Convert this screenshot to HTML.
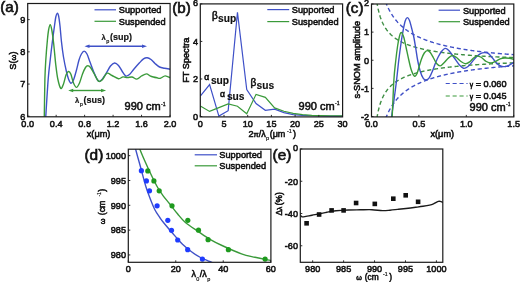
<!DOCTYPE html>
<html><head><meta charset="utf-8"><title>Figure</title>
<style>html,body{margin:0;padding:0;background:#fff;width:520px;height:282px;overflow:hidden}svg{display:block}text{stroke:#111;stroke-width:0.55px}</style>
</head><body>
<svg width="520" height="282" viewBox="0 0 520 282" font-family="'Liberation Sans', Arial, sans-serif" fill="#111"><defs><clipPath id="ca"><rect x="27.70" y="3.50" width="142.40" height="113.30"/></clipPath><clipPath id="cb"><rect x="200.30" y="3.90" width="142.30" height="113.00"/></clipPath><clipPath id="cc"><rect x="371.50" y="4.00" width="142.30" height="112.90"/></clipPath><clipPath id="cd"><rect x="128.30" y="149.20" width="142.60" height="113.10"/></clipPath><clipPath id="ce"><rect x="300.30" y="149.00" width="142.50" height="113.30"/></clipPath></defs><rect width="520" height="282" fill="#fff"/><g clip-path="url(#ca)" fill="none" stroke-width="1.4">
<path d="M45.00,130.00 C45.13,127.67 45.27,124.50 45.80,116.00 C46.33,107.50 47.47,88.33 48.20,79.00 C48.93,69.67 49.53,66.00 50.20,60.00 C50.87,54.00 51.47,48.83 52.20,43.00 C52.93,37.17 54.00,29.33 54.60,25.00 C55.20,20.67 55.37,18.95 55.80,17.00 C56.23,15.05 56.73,13.47 57.20,13.30 C57.67,13.13 58.13,13.88 58.60,16.00 C59.07,18.12 59.52,21.67 60.00,26.00 C60.48,30.33 60.92,36.83 61.50,42.00 C62.08,47.17 62.70,52.17 63.50,57.00 C64.30,61.83 65.47,67.33 66.30,71.00 C67.13,74.67 67.73,76.97 68.50,79.00 C69.27,81.03 70.07,83.03 70.90,83.20 C71.73,83.37 72.57,82.20 73.50,80.00 C74.43,77.80 75.58,73.33 76.50,70.00 C77.42,66.67 78.18,62.67 79.00,60.00 C79.82,57.33 80.55,55.48 81.40,54.00 C82.25,52.52 83.17,51.10 84.10,51.10 C85.03,51.10 86.02,52.18 87.00,54.00 C87.98,55.82 88.83,58.92 90.00,62.00 C91.17,65.08 92.83,69.67 94.00,72.50 C95.17,75.33 96.15,77.52 97.00,79.00 C97.85,80.48 98.27,81.32 99.10,81.40 C99.93,81.48 100.80,80.87 102.00,79.50 C103.20,78.13 104.88,75.45 106.30,73.20 C107.72,70.95 109.12,67.70 110.50,66.00 C111.88,64.30 113.27,63.08 114.60,63.00 C115.93,62.92 117.27,64.17 118.50,65.50 C119.73,66.83 120.80,69.25 122.00,71.00 C123.20,72.75 124.45,75.42 125.70,76.00 C126.95,76.58 128.12,75.67 129.50,74.50 C130.88,73.33 132.33,70.95 134.00,69.00 C135.67,67.05 137.92,64.50 139.50,62.80 C141.08,61.10 142.22,59.65 143.50,58.80 C144.78,57.95 145.95,57.58 147.20,57.70 C148.45,57.82 149.70,58.53 151.00,59.50 C152.30,60.47 153.57,62.25 155.00,63.50 C156.43,64.75 158.02,66.22 159.60,67.00 C161.18,67.78 162.68,67.83 164.50,68.20 C166.32,68.57 169.50,69.03 170.50,69.20" stroke="#3f51c8"/>
<path d="M43.90,130.00 C43.97,127.67 44.13,124.50 44.30,116.00 C44.47,107.50 44.65,88.33 44.90,79.00 C45.15,69.67 45.38,66.50 45.80,60.00 C46.22,53.50 46.93,45.00 47.40,40.00 C47.87,35.00 48.13,32.53 48.60,30.00 C49.07,27.47 49.67,24.80 50.20,24.80 C50.73,24.80 51.23,26.97 51.80,30.00 C52.37,33.03 52.93,37.17 53.60,43.00 C54.27,48.83 55.10,59.00 55.80,65.00 C56.50,71.00 56.97,75.10 57.80,79.00 C58.63,82.90 59.85,87.57 60.80,88.40 C61.75,89.23 62.63,86.23 63.50,84.00 C64.37,81.77 65.18,77.08 66.00,75.00 C66.82,72.92 67.60,71.67 68.40,71.50 C69.20,71.33 69.95,72.08 70.80,74.00 C71.65,75.92 72.55,80.77 73.50,83.00 C74.45,85.23 75.50,87.40 76.50,87.40 C77.50,87.40 78.50,85.23 79.50,83.00 C80.50,80.77 81.50,76.58 82.50,74.00 C83.50,71.42 84.62,68.87 85.50,67.50 C86.38,66.13 86.97,65.80 87.80,65.80 C88.63,65.80 89.47,66.22 90.50,67.50 C91.53,68.78 92.65,71.20 94.00,73.50 C95.35,75.80 97.18,80.30 98.60,81.30 C100.02,82.30 101.10,80.85 102.50,79.50 C103.90,78.15 105.42,73.87 107.00,73.20 C108.58,72.53 110.08,74.58 112.00,75.50 C113.92,76.42 116.67,78.47 118.50,78.70 C120.33,78.93 121.50,77.08 123.00,76.90 C124.50,76.72 126.00,77.58 127.50,77.60 C129.00,77.62 130.45,76.75 132.00,77.00 C133.55,77.25 135.22,79.27 136.80,79.10 C138.38,78.93 139.88,76.87 141.50,76.00 C143.12,75.13 145.08,73.93 146.50,73.90 C147.92,73.87 148.85,75.28 150.00,75.80 C151.15,76.32 152.23,76.67 153.40,77.00 C154.57,77.33 155.85,77.58 157.00,77.80 C158.15,78.02 158.93,78.62 160.30,78.30 C161.67,77.98 163.50,75.95 165.20,75.90 C166.90,75.85 169.62,77.65 170.50,78.00" stroke="#3a9a3a"/>
</g>
<text transform="translate(27.70,126.60) scale(0.950,1)" font-size="9.60" text-anchor="middle">0.0</text>
<text transform="translate(56.16,126.60) scale(0.950,1)" font-size="9.60" text-anchor="middle">0.4</text>
<text transform="translate(84.62,126.60) scale(0.950,1)" font-size="9.60" text-anchor="middle">0.8</text>
<text transform="translate(113.08,126.60) scale(0.950,1)" font-size="9.60" text-anchor="middle">1.2</text>
<text transform="translate(141.54,126.60) scale(0.950,1)" font-size="9.60" text-anchor="middle">1.6</text>
<text transform="translate(170.00,126.60) scale(0.950,1)" font-size="9.60" text-anchor="middle">2.0</text>
<text transform="translate(25.40,119.60) scale(0.950,1)" font-size="9.60" text-anchor="end">6</text>
<text transform="translate(25.40,87.37) scale(0.950,1)" font-size="9.60" text-anchor="end">7</text>
<text transform="translate(25.40,55.14) scale(0.950,1)" font-size="9.60" text-anchor="end">8</text>
<text transform="translate(25.40,22.91) scale(0.950,1)" font-size="9.60" text-anchor="end">9</text>
<path d="M27.70,116.80 v-2.0 M56.16,116.80 v-2.0 M84.62,116.80 v-2.0 M113.08,116.80 v-2.0 M141.54,116.80 v-2.0 M170.00,116.80 v-2.0 M27.70,116.30 h2.0 M27.70,84.07 h2.0 M27.70,51.84 h2.0 M27.70,19.61 h2.0" stroke="#1a1a1a" stroke-width="0.9" fill="none"/>
<rect x="27.70" y="3.50" width="142.40" height="113.30" fill="none" stroke="#1a1a1a" stroke-width="1.2"/>
<path d="M94.50,9.80 H116.00" stroke="#3f51c8" stroke-width="1.20"/>
<path d="M94.50,21.30 H116.00" stroke="#3a9a3a" stroke-width="1.20"/>
<text transform="translate(118.80,13.10) scale(0.940,1)" font-size="9.86" text-anchor="start">Supported</text>
<text transform="translate(118.80,24.60) scale(0.940,1)" font-size="9.86" text-anchor="start">Suspended</text>
<path d="M88.50,46.30 H143.00" stroke="#3f51c8" stroke-width="1.40"/>
<path d="M84.50,46.30 l5.00,-1.80 v3.60 z M147.00,46.30 l-5.00,-1.80 v3.60 z" fill="#3f51c8"/>
<path d="M72.20,90.50 H102.10" stroke="#3a9a3a" stroke-width="1.40"/>
<path d="M68.20,90.50 l5.00,-1.80 v3.60 z M106.10,90.50 l-5.00,-1.80 v3.60 z" fill="#3a9a3a"/>
<text x="101.40" y="40.40" font-size="9.00" text-anchor="start"><tspan font-size="7.60" font-weight="bold" stroke-width="0.15">λ</tspan><tspan dx="0.60" dy="2.80" font-size="5.50" style="stroke-width:0.2px">p</tspan><tspan dx="0.60" dy="-2.80" font-weight="bold" stroke-width="0.15">(sup)</tspan></text>
<text x="74.90" y="102.80" font-size="9.00" text-anchor="start"><tspan font-size="7.60" font-weight="bold" stroke-width="0.15">λ</tspan><tspan dx="0.60" dy="2.80" font-size="5.50" style="stroke-width:0.2px">p</tspan><tspan dx="0.60" dy="-2.80" font-weight="bold" stroke-width="0.15">(sus)</tspan></text>
<text x="124.60" y="110.20" font-size="11.00" text-anchor="start">990 cm<tspan font-size="5.2" dy="-4.5" dx="0.4" style="stroke-width:0.3px">-1</tspan></text>
<text transform="translate(15.70,60.60) rotate(-90)" font-size="9.20" text-anchor="middle">S(<tspan font-size="7.50">ω</tspan>)</text>
<text x="98.60" y="136.50" font-size="9.20" text-anchor="middle">x(μm)</text>
<text transform="translate(0.20,12.40) scale(1.100,1)" font-size="13.80" text-anchor="start" style="stroke-width:0.6px">(a)</text>
<g clip-path="url(#cb)" fill="none" stroke-width="1.2" stroke-linejoin="miter">
<path d="M200.30,96.04 L209.59,84.60 L218.88,116.12 L228.17,110.68 L237.46,12.35 L246.75,89.48 L256.04,103.55 L265.33,110.31 L274.62,109.18 L283.91,112.56 L293.20,114.62 L302.49,115.37 L311.78,115.75 L321.08,115.94 L330.37,116.12 L339.66,116.12 L348.95,116.12" stroke="#3f51c8"/>
<path d="M200.30,105.99 L209.59,111.43 L218.88,107.68 L228.17,103.93 L237.46,106.18 L246.75,113.69 L256.04,94.36 L265.33,97.36 L274.62,107.87 L283.91,111.25 L293.20,113.31 L302.49,114.62 L311.78,115.37 L321.08,115.56 L330.37,115.75 L339.66,115.94 L348.95,115.94" stroke="#3a9a3a"/>
</g>
<text transform="translate(200.30,126.80) scale(0.950,1)" font-size="9.60" text-anchor="middle">0</text>
<text transform="translate(224.00,126.80) scale(0.950,1)" font-size="9.60" text-anchor="middle">5</text>
<text transform="translate(247.70,126.80) scale(0.950,1)" font-size="9.60" text-anchor="middle">10</text>
<text transform="translate(271.40,126.80) scale(0.950,1)" font-size="9.60" text-anchor="middle">15</text>
<text transform="translate(295.10,126.80) scale(0.950,1)" font-size="9.60" text-anchor="middle">20</text>
<text transform="translate(318.80,126.80) scale(0.950,1)" font-size="9.60" text-anchor="middle">25</text>
<text transform="translate(342.50,126.80) scale(0.950,1)" font-size="9.60" text-anchor="middle">30</text>
<text transform="translate(198.00,119.80) scale(0.950,1)" font-size="9.60" text-anchor="end">0</text>
<text transform="translate(198.00,82.27) scale(0.950,1)" font-size="9.60" text-anchor="end">2</text>
<text transform="translate(198.00,44.73) scale(0.950,1)" font-size="9.60" text-anchor="end">4</text>
<text transform="translate(198.00,6.30) scale(0.950,1)" font-size="9.60" text-anchor="end">6</text>
<path d="M200.30,116.90 v-2.0 M224.00,116.90 v-2.0 M247.70,116.90 v-2.0 M271.40,116.90 v-2.0 M295.10,116.90 v-2.0 M318.80,116.90 v-2.0 M342.50,116.90 v-2.0 M200.30,116.50 h2.0 M200.30,78.97 h2.0 M200.30,41.43 h2.0 M200.30,3.90 h2.0" stroke="#1a1a1a" stroke-width="0.9" fill="none"/>
<rect x="200.30" y="3.90" width="142.30" height="113.00" fill="none" stroke="#1a1a1a" stroke-width="1.2"/>
<path d="M267.30,9.60 H289.20" stroke="#3f51c8" stroke-width="1.20"/>
<path d="M267.30,21.60 H289.20" stroke="#3a9a3a" stroke-width="1.20"/>
<text transform="translate(291.80,12.90) scale(0.940,1)" font-size="9.86" text-anchor="start">Supported</text>
<text transform="translate(291.80,24.90) scale(0.940,1)" font-size="9.86" text-anchor="start">Suspended</text>
<text x="298.60" y="109.90" font-size="11.00" text-anchor="start">990 cm<tspan font-size="5.2" dy="-4.5" dx="0.4" style="stroke-width:0.3px">-1</tspan></text>
<text transform="translate(188.5,60.2) rotate(-90)" font-size="9.2" text-anchor="middle">FT Spectra</text>
<text x="248.50" y="137.00" font-size="9.00" text-anchor="start">2<tspan font-size="7.50">π</tspan>/λ<tspan dx="0.30" dy="3.00" font-size="5.50" style="stroke-width:0.2px">p</tspan><tspan dx="0.60" dy="-3.00">(μm</tspan><tspan dx="1.60" dy="-3.60" font-size="5.50" style="stroke-width:0.2px">-1</tspan><tspan dx="1.20" dy="3.60">)</tspan></text>
<text transform="translate(172.20,12.70) scale(1.100,1)" font-size="13.80" text-anchor="start" style="stroke-width:0.6px">(b)</text>
<text x="212.00" y="18.60" font-size="10.00" text-anchor="start"><tspan font-size="10.00">β</tspan><tspan x="218.00" dy="3.20" font-size="10.20" font-weight="bold" stroke-width="0.15">sup</tspan></text>
<text x="204.20" y="79.80" font-size="8.60" text-anchor="start"><tspan font-size="8.60">α</tspan><tspan x="210.90" dy="4.10" font-size="10.20" font-weight="bold" stroke-width="0.15">sup</tspan></text>
<text x="220.10" y="97.20" font-size="8.60" text-anchor="start"><tspan font-size="8.60">α</tspan><tspan x="226.90" dy="3.10" font-size="10.20" font-weight="bold" stroke-width="0.15">sus</tspan></text>
<text x="250.60" y="85.60" font-size="10.00" text-anchor="start"><tspan font-size="10.00">β</tspan><tspan x="256.60" dy="3.20" font-size="10.20" font-weight="bold" stroke-width="0.15">sus</tspan></text>
<g clip-path="url(#cc)" fill="none" stroke-width="1.4">
<path d="M373.40,-10.00 L373.87,-10.00 L374.35,-10.00 L374.82,-10.00 L375.30,-10.00 L375.77,-6.10 L376.25,-2.20 L376.73,1.16 L377.20,4.09 L377.68,6.68 L378.15,8.99 L378.63,11.06 L379.10,12.94 L379.58,14.66 L380.05,16.22 L380.53,17.67 L381.01,19.01 L381.48,20.25 L381.96,21.41 L382.43,22.49 L382.91,23.51 L383.38,24.46 L383.86,25.36 L384.33,26.22 L384.81,27.02 L385.29,27.79 L385.76,28.52 L386.24,29.21 L386.71,29.87 L387.19,30.50 L387.66,31.11 L388.14,31.69 L388.61,32.24 L389.09,32.78 L389.57,33.29 L390.04,33.78 L390.52,34.26 L390.99,34.72 L391.47,35.16 L391.94,35.59 L392.42,36.00 L392.89,36.40 L393.37,36.79 L393.85,37.16 L394.32,37.53 L394.80,37.88 L395.27,38.22 L395.75,38.55 L396.22,38.88 L396.70,39.19 L397.18,39.50 L397.65,39.80 L398.13,40.08 L398.60,40.37 L399.08,40.64 L399.55,40.91 L400.03,41.17 L400.50,41.43 L400.98,41.68 L401.46,41.92 L401.93,42.16 L402.41,42.39 L402.88,42.62 L403.36,42.84 L403.83,43.06 L404.31,43.27 L404.78,43.48 L405.26,43.68 L405.74,43.88 L406.21,44.08 L406.69,44.27 L407.16,44.46 L407.64,44.64 L408.11,44.82 L408.59,45.00 L409.06,45.17 L409.54,45.34 L410.02,45.51 L410.49,45.68 L410.97,45.84 L411.44,45.99 L411.92,46.15 L412.39,46.30 L412.87,46.45 L413.35,46.60 L413.82,46.75 L414.30,46.89 L414.77,47.03 L415.25,47.17 L415.72,47.30 L416.20,47.44 L416.67,47.57 L417.15,47.70 L417.63,47.83 L418.10,47.95 L418.58,48.08 L419.05,48.20 L419.53,48.32 L420.00,48.43 L420.48,48.55 L420.95,48.67 L421.43,48.78 L421.91,48.89 L422.38,49.00 L422.86,49.11 L423.33,49.21 L423.81,49.32 L424.28,49.42 L424.76,49.52 L425.23,49.62 L425.71,49.72 L426.19,49.82 L426.66,49.92 L427.14,50.01 L427.61,50.11 L428.09,50.20 L428.56,50.29 L429.04,50.38 L429.52,50.47 L429.99,50.56 L430.47,50.65 L430.94,50.73 L431.42,50.82 L431.89,50.90 L432.37,50.98 L432.84,51.06 L433.32,51.14 L433.80,51.22 L434.27,51.30 L434.75,51.38 L435.22,51.46 L435.70,51.53 L436.17,51.61 L436.65,51.68 L437.12,51.75 L437.60,51.83 L438.08,51.90 L438.55,51.97 L439.03,52.04 L439.50,52.11 L439.98,52.18 L440.45,52.24 L440.93,52.31 L441.40,52.37 L441.88,52.44 L442.36,52.50 L442.83,52.57 L443.31,52.63 L443.78,52.69 L444.26,52.75 L444.73,52.82 L445.21,52.88 L445.68,52.94 L446.16,52.99 L446.64,53.05 L447.11,53.11 L447.59,53.17 L448.06,53.22 L448.54,53.28 L449.01,53.34 L449.49,53.39 L449.97,53.44 L450.44,53.50 L450.92,53.55 L451.39,53.60 L451.87,53.66 L452.34,53.71 L452.82,53.76 L453.29,53.81 L453.77,53.86 L454.25,53.91 L454.72,53.96 L455.20,54.01 L455.67,54.05 L456.15,54.10 L456.62,54.15 L457.10,54.19 L457.57,54.24 L458.05,54.29 L458.53,54.33 L459.00,54.38 L459.48,54.42 L459.95,54.47 L460.43,54.51 L460.90,54.55 L461.38,54.59 L461.85,54.64 L462.33,54.68 L462.81,54.72 L463.28,54.76 L463.76,54.80 L464.23,54.84 L464.71,54.88 L465.18,54.92 L465.66,54.96 L466.14,55.00 L466.61,55.04 L467.09,55.08 L467.56,55.11 L468.04,55.15 L468.51,55.19 L468.99,55.23 L469.46,55.26 L469.94,55.30 L470.42,55.33 L470.89,55.37 L471.37,55.41 L471.84,55.44 L472.32,55.47 L472.79,55.51 L473.27,55.54 L473.74,55.58 L474.22,55.61 L474.70,55.64 L475.17,55.68 L475.65,55.71 L476.12,55.74 L476.60,55.77 L477.07,55.80 L477.55,55.84 L478.02,55.87 L478.50,55.90 L478.98,55.93 L479.45,55.96 L479.93,55.99 L480.40,56.02 L480.88,56.05 L481.35,56.08 L481.83,56.11 L482.31,56.14 L482.78,56.16 L483.26,56.19 L483.73,56.22 L484.21,56.25 L484.68,56.28 L485.16,56.30 L485.63,56.33 L486.11,56.36 L486.59,56.38 L487.06,56.41 L487.54,56.44 L488.01,56.46 L488.49,56.49 L488.96,56.52 L489.44,56.54 L489.91,56.57 L490.39,56.59 L490.87,56.62 L491.34,56.64 L491.82,56.67 L492.29,56.69 L492.77,56.71 L493.24,56.74 L493.72,56.76 L494.19,56.79 L494.67,56.81 L495.15,56.83 L495.62,56.85 L496.10,56.88 L496.57,56.90 L497.05,56.92 L497.52,56.94 L498.00,56.97 L498.47,56.99 L498.95,57.01 L499.43,57.03 L499.90,57.05 L500.38,57.07 L500.85,57.10 L501.33,57.12 L501.80,57.14 L502.28,57.16 L502.76,57.18 L503.23,57.20 L503.71,57.22 L504.18,57.24 L504.66,57.26 L505.13,57.28 L505.61,57.30 L506.08,57.32 L506.56,57.34 L507.04,57.36 L507.51,57.37 L507.99,57.39 L508.46,57.41 L508.94,57.43 L509.41,57.45 L509.89,57.47 L510.36,57.49 L510.84,57.50 L511.32,57.52 L511.79,57.54 L512.27,57.56 L512.74,57.57 L513.22,57.59 L513.69,57.61 L514.17,57.63 L514.64,57.64 L515.12,57.66 L515.60,57.68" stroke="#3f8f45" stroke-dasharray="4.1,2.8"/>
<path d="M373.40,130.00 L373.87,130.00 L374.35,130.00 L374.82,130.00 L375.30,130.00 L375.77,126.60 L376.25,122.70 L376.73,119.34 L377.20,116.41 L377.68,113.82 L378.15,111.51 L378.63,109.44 L379.10,107.56 L379.58,105.84 L380.05,104.28 L380.53,102.83 L381.01,101.49 L381.48,100.25 L381.96,99.09 L382.43,98.01 L382.91,96.99 L383.38,96.04 L383.86,95.14 L384.33,94.28 L384.81,93.48 L385.29,92.71 L385.76,91.98 L386.24,91.29 L386.71,90.63 L387.19,90.00 L387.66,89.39 L388.14,88.81 L388.61,88.26 L389.09,87.72 L389.57,87.21 L390.04,86.72 L390.52,86.24 L390.99,85.78 L391.47,85.34 L391.94,84.91 L392.42,84.50 L392.89,84.10 L393.37,83.71 L393.85,83.34 L394.32,82.97 L394.80,82.62 L395.27,82.28 L395.75,81.95 L396.22,81.62 L396.70,81.31 L397.18,81.00 L397.65,80.70 L398.13,80.42 L398.60,80.13 L399.08,79.86 L399.55,79.59 L400.03,79.33 L400.50,79.07 L400.98,78.82 L401.46,78.58 L401.93,78.34 L402.41,78.11 L402.88,77.88 L403.36,77.66 L403.83,77.44 L404.31,77.23 L404.78,77.02 L405.26,76.82 L405.74,76.62 L406.21,76.42 L406.69,76.23 L407.16,76.04 L407.64,75.86 L408.11,75.68 L408.59,75.50 L409.06,75.33 L409.54,75.16 L410.02,74.99 L410.49,74.82 L410.97,74.66 L411.44,74.51 L411.92,74.35 L412.39,74.20 L412.87,74.05 L413.35,73.90 L413.82,73.75 L414.30,73.61 L414.77,73.47 L415.25,73.33 L415.72,73.20 L416.20,73.06 L416.67,72.93 L417.15,72.80 L417.63,72.67 L418.10,72.55 L418.58,72.42 L419.05,72.30 L419.53,72.18 L420.00,72.07 L420.48,71.95 L420.95,71.83 L421.43,71.72 L421.91,71.61 L422.38,71.50 L422.86,71.39 L423.33,71.29 L423.81,71.18 L424.28,71.08 L424.76,70.98 L425.23,70.88 L425.71,70.78 L426.19,70.68 L426.66,70.58 L427.14,70.49 L427.61,70.39 L428.09,70.30 L428.56,70.21 L429.04,70.12 L429.52,70.03 L429.99,69.94 L430.47,69.85 L430.94,69.77 L431.42,69.68 L431.89,69.60 L432.37,69.52 L432.84,69.44 L433.32,69.36 L433.80,69.28 L434.27,69.20 L434.75,69.12 L435.22,69.04 L435.70,68.97 L436.17,68.89 L436.65,68.82 L437.12,68.75 L437.60,68.67 L438.08,68.60 L438.55,68.53 L439.03,68.46 L439.50,68.39 L439.98,68.32 L440.45,68.26 L440.93,68.19 L441.40,68.13 L441.88,68.06 L442.36,68.00 L442.83,67.93 L443.31,67.87 L443.78,67.81 L444.26,67.75 L444.73,67.68 L445.21,67.62 L445.68,67.56 L446.16,67.51 L446.64,67.45 L447.11,67.39 L447.59,67.33 L448.06,67.28 L448.54,67.22 L449.01,67.16 L449.49,67.11 L449.97,67.06 L450.44,67.00 L450.92,66.95 L451.39,66.90 L451.87,66.84 L452.34,66.79 L452.82,66.74 L453.29,66.69 L453.77,66.64 L454.25,66.59 L454.72,66.54 L455.20,66.49 L455.67,66.45 L456.15,66.40 L456.62,66.35 L457.10,66.31 L457.57,66.26 L458.05,66.21 L458.53,66.17 L459.00,66.12 L459.48,66.08 L459.95,66.03 L460.43,65.99 L460.90,65.95 L461.38,65.91 L461.85,65.86 L462.33,65.82 L462.81,65.78 L463.28,65.74 L463.76,65.70 L464.23,65.66 L464.71,65.62 L465.18,65.58 L465.66,65.54 L466.14,65.50 L466.61,65.46 L467.09,65.42 L467.56,65.39 L468.04,65.35 L468.51,65.31 L468.99,65.27 L469.46,65.24 L469.94,65.20 L470.42,65.17 L470.89,65.13 L471.37,65.09 L471.84,65.06 L472.32,65.03 L472.79,64.99 L473.27,64.96 L473.74,64.92 L474.22,64.89 L474.70,64.86 L475.17,64.82 L475.65,64.79 L476.12,64.76 L476.60,64.73 L477.07,64.70 L477.55,64.66 L478.02,64.63 L478.50,64.60 L478.98,64.57 L479.45,64.54 L479.93,64.51 L480.40,64.48 L480.88,64.45 L481.35,64.42 L481.83,64.39 L482.31,64.36 L482.78,64.34 L483.26,64.31 L483.73,64.28 L484.21,64.25 L484.68,64.22 L485.16,64.20 L485.63,64.17 L486.11,64.14 L486.59,64.12 L487.06,64.09 L487.54,64.06 L488.01,64.04 L488.49,64.01 L488.96,63.98 L489.44,63.96 L489.91,63.93 L490.39,63.91 L490.87,63.88 L491.34,63.86 L491.82,63.83 L492.29,63.81 L492.77,63.79 L493.24,63.76 L493.72,63.74 L494.19,63.71 L494.67,63.69 L495.15,63.67 L495.62,63.65 L496.10,63.62 L496.57,63.60 L497.05,63.58 L497.52,63.56 L498.00,63.53 L498.47,63.51 L498.95,63.49 L499.43,63.47 L499.90,63.45 L500.38,63.43 L500.85,63.40 L501.33,63.38 L501.80,63.36 L502.28,63.34 L502.76,63.32 L503.23,63.30 L503.71,63.28 L504.18,63.26 L504.66,63.24 L505.13,63.22 L505.61,63.20 L506.08,63.18 L506.56,63.16 L507.04,63.14 L507.51,63.13 L507.99,63.11 L508.46,63.09 L508.94,63.07 L509.41,63.05 L509.89,63.03 L510.36,63.01 L510.84,63.00 L511.32,62.98 L511.79,62.96 L512.27,62.94 L512.74,62.93 L513.22,62.91 L513.69,62.89 L514.17,62.87 L514.64,62.86 L515.12,62.84 L515.60,62.82" stroke="#3f8f45" stroke-dasharray="4.1,2.8"/>
<path d="M373.40,-10.00 L373.87,-10.00 L374.35,-10.00 L374.82,-10.00 L375.30,-10.00 L375.77,-10.00 L376.25,-10.00 L376.73,-10.00 L377.20,-10.00 L377.68,-10.00 L378.15,-10.00 L378.63,-10.00 L379.10,-10.00 L379.58,-10.00 L380.05,-10.00 L380.53,-10.00 L381.01,-10.00 L381.48,-10.00 L381.96,-10.00 L382.43,-8.34 L382.91,-6.56 L383.38,-4.88 L383.86,-3.30 L384.33,-1.80 L384.81,-0.38 L385.29,0.96 L385.76,2.24 L386.24,3.46 L386.71,4.63 L387.19,5.74 L387.66,6.81 L388.14,7.83 L388.61,8.81 L389.09,9.75 L389.57,10.66 L390.04,11.53 L390.52,12.37 L390.99,13.18 L391.47,13.96 L391.94,14.72 L392.42,15.45 L392.89,16.16 L393.37,16.84 L393.85,17.51 L394.32,18.15 L394.80,18.78 L395.27,19.39 L395.75,19.98 L396.22,20.55 L396.70,21.11 L397.18,21.65 L397.65,22.18 L398.13,22.69 L398.60,23.19 L399.08,23.68 L399.55,24.16 L400.03,24.63 L400.50,25.08 L400.98,25.53 L401.46,25.96 L401.93,26.38 L402.41,26.80 L402.88,27.20 L403.36,27.60 L403.83,27.99 L404.31,28.37 L404.78,28.74 L405.26,29.10 L405.74,29.46 L406.21,29.81 L406.69,30.15 L407.16,30.49 L407.64,30.82 L408.11,31.14 L408.59,31.46 L409.06,31.77 L409.54,32.08 L410.02,32.38 L410.49,32.67 L410.97,32.96 L411.44,33.25 L411.92,33.53 L412.39,33.80 L412.87,34.07 L413.35,34.34 L413.82,34.60 L414.30,34.85 L414.77,35.11 L415.25,35.36 L415.72,35.60 L416.20,35.84 L416.67,36.08 L417.15,36.31 L417.63,36.54 L418.10,36.77 L418.58,36.99 L419.05,37.21 L419.53,37.43 L420.00,37.64 L420.48,37.85 L420.95,38.06 L421.43,38.26 L421.91,38.46 L422.38,38.66 L422.86,38.86 L423.33,39.05 L423.81,39.24 L424.28,39.43 L424.76,39.61 L425.23,39.79 L425.71,39.98 L426.19,40.15 L426.66,40.33 L427.14,40.50 L427.61,40.67 L428.09,40.84 L428.56,41.01 L429.04,41.17 L429.52,41.33 L429.99,41.49 L430.47,41.65 L430.94,41.81 L431.42,41.96 L431.89,42.12 L432.37,42.27 L432.84,42.42 L433.32,42.56 L433.80,42.71 L434.27,42.85 L434.75,42.99 L435.22,43.13 L435.70,43.27 L436.17,43.41 L436.65,43.54 L437.12,43.68 L437.60,43.81 L438.08,43.94 L438.55,44.07 L439.03,44.20 L439.50,44.33 L439.98,44.45 L440.45,44.57 L440.93,44.70 L441.40,44.82 L441.88,44.94 L442.36,45.06 L442.83,45.17 L443.31,45.29 L443.78,45.40 L444.26,45.52 L444.73,45.63 L445.21,45.74 L445.68,45.85 L446.16,45.96 L446.64,46.07 L447.11,46.17 L447.59,46.28 L448.06,46.38 L448.54,46.49 L449.01,46.59 L449.49,46.69 L449.97,46.79 L450.44,46.89 L450.92,46.99 L451.39,47.09 L451.87,47.18 L452.34,47.28 L452.82,47.37 L453.29,47.47 L453.77,47.56 L454.25,47.65 L454.72,47.74 L455.20,47.83 L455.67,47.92 L456.15,48.01 L456.62,48.10 L457.10,48.18 L457.57,48.27 L458.05,48.36 L458.53,48.44 L459.00,48.52 L459.48,48.61 L459.95,48.69 L460.43,48.77 L460.90,48.85 L461.38,48.93 L461.85,49.01 L462.33,49.09 L462.81,49.17 L463.28,49.24 L463.76,49.32 L464.23,49.39 L464.71,49.47 L465.18,49.54 L465.66,49.62 L466.14,49.69 L466.61,49.76 L467.09,49.83 L467.56,49.91 L468.04,49.98 L468.51,50.05 L468.99,50.12 L469.46,50.18 L469.94,50.25 L470.42,50.32 L470.89,50.39 L471.37,50.45 L471.84,50.52 L472.32,50.58 L472.79,50.65 L473.27,50.71 L473.74,50.78 L474.22,50.84 L474.70,50.90 L475.17,50.96 L475.65,51.03 L476.12,51.09 L476.60,51.15 L477.07,51.21 L477.55,51.27 L478.02,51.33 L478.50,51.38 L478.98,51.44 L479.45,51.50 L479.93,51.56 L480.40,51.61 L480.88,51.67 L481.35,51.73 L481.83,51.78 L482.31,51.84 L482.78,51.89 L483.26,51.95 L483.73,52.00 L484.21,52.05 L484.68,52.10 L485.16,52.16 L485.63,52.21 L486.11,52.26 L486.59,52.31 L487.06,52.36 L487.54,52.41 L488.01,52.46 L488.49,52.51 L488.96,52.56 L489.44,52.61 L489.91,52.66 L490.39,52.71 L490.87,52.75 L491.34,52.80 L491.82,52.85 L492.29,52.90 L492.77,52.94 L493.24,52.99 L493.72,53.03 L494.19,53.08 L494.67,53.12 L495.15,53.17 L495.62,53.21 L496.10,53.26 L496.57,53.30 L497.05,53.34 L497.52,53.39 L498.00,53.43 L498.47,53.47 L498.95,53.51 L499.43,53.56 L499.90,53.60 L500.38,53.64 L500.85,53.68 L501.33,53.72 L501.80,53.76 L502.28,53.80 L502.76,53.84 L503.23,53.88 L503.71,53.92 L504.18,53.96 L504.66,53.99 L505.13,54.03 L505.61,54.07 L506.08,54.11 L506.56,54.15 L507.04,54.18 L507.51,54.22 L507.99,54.26 L508.46,54.29 L508.94,54.33 L509.41,54.36 L509.89,54.40 L510.36,54.44 L510.84,54.47 L511.32,54.50 L511.79,54.54 L512.27,54.57 L512.74,54.61 L513.22,54.64 L513.69,54.68 L514.17,54.71 L514.64,54.74 L515.12,54.77 L515.60,54.81" stroke="#3f4fc6" stroke-dasharray="4.1,2.8"/>
<path d="M373.40,130.00 L373.87,130.00 L374.35,130.00 L374.82,130.00 L375.30,130.00 L375.77,130.00 L376.25,130.00 L376.73,130.00 L377.20,130.00 L377.68,130.00 L378.15,130.00 L378.63,130.00 L379.10,130.00 L379.58,130.00 L380.05,130.00 L380.53,130.00 L381.01,130.00 L381.48,130.00 L381.96,130.00 L382.43,128.84 L382.91,127.06 L383.38,125.38 L383.86,123.80 L384.33,122.30 L384.81,120.88 L385.29,119.54 L385.76,118.26 L386.24,117.04 L386.71,115.87 L387.19,114.76 L387.66,113.69 L388.14,112.67 L388.61,111.69 L389.09,110.75 L389.57,109.84 L390.04,108.97 L390.52,108.13 L390.99,107.32 L391.47,106.54 L391.94,105.78 L392.42,105.05 L392.89,104.34 L393.37,103.66 L393.85,102.99 L394.32,102.35 L394.80,101.72 L395.27,101.11 L395.75,100.52 L396.22,99.95 L396.70,99.39 L397.18,98.85 L397.65,98.32 L398.13,97.81 L398.60,97.31 L399.08,96.82 L399.55,96.34 L400.03,95.87 L400.50,95.42 L400.98,94.97 L401.46,94.54 L401.93,94.12 L402.41,93.70 L402.88,93.30 L403.36,92.90 L403.83,92.51 L404.31,92.13 L404.78,91.76 L405.26,91.40 L405.74,91.04 L406.21,90.69 L406.69,90.35 L407.16,90.01 L407.64,89.68 L408.11,89.36 L408.59,89.04 L409.06,88.73 L409.54,88.42 L410.02,88.12 L410.49,87.83 L410.97,87.54 L411.44,87.25 L411.92,86.97 L412.39,86.70 L412.87,86.43 L413.35,86.16 L413.82,85.90 L414.30,85.65 L414.77,85.39 L415.25,85.14 L415.72,84.90 L416.20,84.66 L416.67,84.42 L417.15,84.19 L417.63,83.96 L418.10,83.73 L418.58,83.51 L419.05,83.29 L419.53,83.07 L420.00,82.86 L420.48,82.65 L420.95,82.44 L421.43,82.24 L421.91,82.04 L422.38,81.84 L422.86,81.64 L423.33,81.45 L423.81,81.26 L424.28,81.07 L424.76,80.89 L425.23,80.71 L425.71,80.52 L426.19,80.35 L426.66,80.17 L427.14,80.00 L427.61,79.83 L428.09,79.66 L428.56,79.49 L429.04,79.33 L429.52,79.17 L429.99,79.01 L430.47,78.85 L430.94,78.69 L431.42,78.54 L431.89,78.38 L432.37,78.23 L432.84,78.08 L433.32,77.94 L433.80,77.79 L434.27,77.65 L434.75,77.51 L435.22,77.37 L435.70,77.23 L436.17,77.09 L436.65,76.96 L437.12,76.82 L437.60,76.69 L438.08,76.56 L438.55,76.43 L439.03,76.30 L439.50,76.17 L439.98,76.05 L440.45,75.93 L440.93,75.80 L441.40,75.68 L441.88,75.56 L442.36,75.44 L442.83,75.33 L443.31,75.21 L443.78,75.10 L444.26,74.98 L444.73,74.87 L445.21,74.76 L445.68,74.65 L446.16,74.54 L446.64,74.43 L447.11,74.33 L447.59,74.22 L448.06,74.12 L448.54,74.01 L449.01,73.91 L449.49,73.81 L449.97,73.71 L450.44,73.61 L450.92,73.51 L451.39,73.41 L451.87,73.32 L452.34,73.22 L452.82,73.13 L453.29,73.03 L453.77,72.94 L454.25,72.85 L454.72,72.76 L455.20,72.67 L455.67,72.58 L456.15,72.49 L456.62,72.40 L457.10,72.32 L457.57,72.23 L458.05,72.14 L458.53,72.06 L459.00,71.98 L459.48,71.89 L459.95,71.81 L460.43,71.73 L460.90,71.65 L461.38,71.57 L461.85,71.49 L462.33,71.41 L462.81,71.33 L463.28,71.26 L463.76,71.18 L464.23,71.11 L464.71,71.03 L465.18,70.96 L465.66,70.88 L466.14,70.81 L466.61,70.74 L467.09,70.67 L467.56,70.59 L468.04,70.52 L468.51,70.45 L468.99,70.38 L469.46,70.32 L469.94,70.25 L470.42,70.18 L470.89,70.11 L471.37,70.05 L471.84,69.98 L472.32,69.92 L472.79,69.85 L473.27,69.79 L473.74,69.72 L474.22,69.66 L474.70,69.60 L475.17,69.54 L475.65,69.47 L476.12,69.41 L476.60,69.35 L477.07,69.29 L477.55,69.23 L478.02,69.17 L478.50,69.12 L478.98,69.06 L479.45,69.00 L479.93,68.94 L480.40,68.89 L480.88,68.83 L481.35,68.77 L481.83,68.72 L482.31,68.66 L482.78,68.61 L483.26,68.55 L483.73,68.50 L484.21,68.45 L484.68,68.40 L485.16,68.34 L485.63,68.29 L486.11,68.24 L486.59,68.19 L487.06,68.14 L487.54,68.09 L488.01,68.04 L488.49,67.99 L488.96,67.94 L489.44,67.89 L489.91,67.84 L490.39,67.79 L490.87,67.75 L491.34,67.70 L491.82,67.65 L492.29,67.60 L492.77,67.56 L493.24,67.51 L493.72,67.47 L494.19,67.42 L494.67,67.38 L495.15,67.33 L495.62,67.29 L496.10,67.24 L496.57,67.20 L497.05,67.16 L497.52,67.11 L498.00,67.07 L498.47,67.03 L498.95,66.99 L499.43,66.94 L499.90,66.90 L500.38,66.86 L500.85,66.82 L501.33,66.78 L501.80,66.74 L502.28,66.70 L502.76,66.66 L503.23,66.62 L503.71,66.58 L504.18,66.54 L504.66,66.51 L505.13,66.47 L505.61,66.43 L506.08,66.39 L506.56,66.35 L507.04,66.32 L507.51,66.28 L507.99,66.24 L508.46,66.21 L508.94,66.17 L509.41,66.14 L509.89,66.10 L510.36,66.06 L510.84,66.03 L511.32,66.00 L511.79,65.96 L512.27,65.93 L512.74,65.89 L513.22,65.86 L513.69,65.82 L514.17,65.79 L514.64,65.76 L515.12,65.73 L515.60,65.69" stroke="#3f4fc6" stroke-dasharray="4.1,2.8"/>
<path d="M391.00,125.00 C391.10,123.58 391.10,120.67 391.60,116.50 C392.10,112.33 393.17,106.08 394.00,100.00 C394.83,93.92 395.80,86.67 396.60,80.00 C397.40,73.33 398.03,66.33 398.80,60.00 C399.57,53.67 400.47,47.00 401.20,42.00 C401.93,37.00 402.53,33.50 403.20,30.00 C403.87,26.50 404.52,23.07 405.20,21.00 C405.88,18.93 406.58,17.68 407.30,17.60 C408.02,17.52 408.78,18.77 409.50,20.50 C410.22,22.23 410.88,25.25 411.60,28.00 C412.32,30.75 413.12,33.67 413.80,37.00 C414.48,40.33 415.07,44.17 415.70,48.00 C416.33,51.83 416.83,56.08 417.60,60.00 C418.37,63.92 419.35,68.45 420.30,71.50 C421.25,74.55 422.32,76.90 423.30,78.30 C424.28,79.70 425.22,79.98 426.20,79.90 C427.18,79.82 428.18,79.20 429.20,77.80 C430.22,76.40 431.28,73.88 432.30,71.50 C433.32,69.12 434.30,65.95 435.30,63.50 C436.30,61.05 437.27,58.80 438.30,56.80 C439.33,54.80 440.38,52.90 441.50,51.50 C442.62,50.10 443.78,48.57 445.00,48.40 C446.22,48.23 447.30,48.98 448.80,50.50 C450.30,52.02 452.30,55.17 454.00,57.50 C455.70,59.83 457.40,62.70 459.00,64.50 C460.60,66.30 462.10,67.97 463.60,68.30 C465.10,68.63 466.55,67.62 468.00,66.50 C469.45,65.38 470.88,63.22 472.30,61.60 C473.72,59.98 475.13,58.13 476.50,56.80 C477.87,55.47 479.17,54.30 480.50,53.60 C481.83,52.90 483.20,52.63 484.50,52.60 C485.80,52.57 487.00,52.53 488.30,53.40 C489.60,54.27 490.93,56.20 492.30,57.80 C493.67,59.40 495.13,61.63 496.50,63.00 C497.87,64.37 499.17,65.40 500.50,66.00 C501.83,66.60 503.17,66.67 504.50,66.60 C505.83,66.53 507.20,66.13 508.50,65.60 C509.80,65.07 511.30,64.00 512.30,63.40 C513.30,62.80 514.13,62.23 514.50,62.00" stroke="#3f51c8"/>
<path d="M391.60,125.00 C391.70,123.58 391.82,124.00 392.20,116.50 C392.58,109.00 393.33,89.08 393.90,80.00 C394.47,70.92 394.98,67.67 395.60,62.00 C396.22,56.33 396.98,50.17 397.60,46.00 C398.22,41.83 398.77,39.23 399.30,37.00 C399.83,34.77 400.30,33.18 400.80,32.60 C401.30,32.02 401.77,32.60 402.30,33.50 C402.83,34.40 403.35,35.58 404.00,38.00 C404.65,40.42 405.40,44.33 406.20,48.00 C407.00,51.67 407.95,56.33 408.80,60.00 C409.65,63.67 410.37,67.32 411.30,70.00 C412.23,72.68 413.45,75.52 414.40,76.10 C415.35,76.68 416.18,75.18 417.00,73.50 C417.82,71.82 418.55,68.42 419.30,66.00 C420.05,63.58 420.67,61.17 421.50,59.00 C422.33,56.83 423.33,54.40 424.30,53.00 C425.27,51.60 426.30,50.68 427.30,50.60 C428.30,50.52 429.27,51.27 430.30,52.50 C431.33,53.73 432.45,56.17 433.50,58.00 C434.55,59.83 435.48,62.18 436.60,63.50 C437.72,64.82 438.97,66.02 440.20,65.90 C441.43,65.78 442.67,64.08 444.00,62.80 C445.33,61.52 446.80,59.42 448.20,58.20 C449.60,56.98 451.02,55.62 452.40,55.50 C453.78,55.38 455.07,56.50 456.50,57.50 C457.93,58.50 459.48,60.45 461.00,61.50 C462.52,62.55 464.13,63.75 465.60,63.80 C467.07,63.85 468.48,62.77 469.80,61.80 C471.12,60.83 472.27,58.98 473.50,58.00 C474.73,57.02 475.87,55.98 477.20,55.90 C478.53,55.82 479.98,56.57 481.50,57.50 C483.02,58.43 484.70,60.58 486.30,61.50 C487.90,62.42 489.52,63.03 491.10,63.00 C492.68,62.97 494.28,62.00 495.80,61.30 C497.32,60.60 498.70,59.35 500.20,58.80 C501.70,58.25 503.28,58.08 504.80,58.00 C506.32,57.92 507.68,58.03 509.30,58.30 C510.92,58.57 513.63,59.38 514.50,59.60" stroke="#3a9a3a"/>
</g>
<text transform="translate(371.50,126.80) scale(0.950,1)" font-size="9.60" text-anchor="middle">0.0</text>
<text transform="translate(418.90,126.80) scale(0.950,1)" font-size="9.60" text-anchor="middle">0.5</text>
<text transform="translate(466.30,126.80) scale(0.950,1)" font-size="9.60" text-anchor="middle">1.0</text>
<text transform="translate(513.70,126.80) scale(0.950,1)" font-size="9.60" text-anchor="middle">1.5</text>
<text transform="translate(369.20,119.80) scale(0.950,1)" font-size="9.60" text-anchor="end">-2</text>
<text transform="translate(369.20,91.67) scale(0.950,1)" font-size="9.60" text-anchor="end">-1</text>
<text transform="translate(369.20,63.55) scale(0.950,1)" font-size="9.60" text-anchor="end">0</text>
<text transform="translate(369.20,35.43) scale(0.950,1)" font-size="9.60" text-anchor="end">1</text>
<text transform="translate(369.20,6.40) scale(0.950,1)" font-size="9.60" text-anchor="end">2</text>
<path d="M371.50,116.90 v-2.0 M418.90,116.90 v-2.0 M466.30,116.90 v-2.0 M513.70,116.90 v-2.0 M371.50,116.50 h2.0 M371.50,88.38 h2.0 M371.50,60.25 h2.0 M371.50,32.12 h2.0 M371.50,4.00 h2.0" stroke="#1a1a1a" stroke-width="0.9" fill="none"/>
<rect x="371.50" y="4.00" width="142.30" height="112.90" fill="none" stroke="#1a1a1a" stroke-width="1.2"/>
<path d="M438.60,10.20 H460.00" stroke="#3f51c8" stroke-width="1.20"/>
<path d="M438.60,21.70 H460.00" stroke="#3a9a3a" stroke-width="1.20"/>
<text transform="translate(462.90,13.50) scale(0.940,1)" font-size="9.86" text-anchor="start">Supported</text>
<text transform="translate(462.90,25.00) scale(0.940,1)" font-size="9.86" text-anchor="start">Suspended</text>
<path d="M445.70,83.50 H467.60" stroke="#3f51c8" stroke-width="1.20" stroke-dasharray="4.1,2.8"/>
<path d="M445.70,96.00 H467.60" stroke="#3a9a3a" stroke-width="1.20" stroke-dasharray="4.1,2.8"/>
<text transform="translate(469.80,86.80) scale(0.940,1)" font-size="9.75" text-anchor="start"><tspan font-size="7.20">γ</tspan><tspan> = 0.060</tspan></text>
<text transform="translate(469.80,99.30) scale(0.940,1)" font-size="9.75" text-anchor="start"><tspan font-size="7.20">γ</tspan><tspan> = 0.045</tspan></text>
<text x="469.60" y="110.50" font-size="11.00" text-anchor="start">990 cm<tspan font-size="5.2" dy="-4.5" dx="0.4" style="stroke-width:0.3px">-1</tspan></text>
<text transform="translate(360,59.8) rotate(-90)" font-size="9.2" text-anchor="middle">s-SNOM amplitude</text>
<text x="442.30" y="136.50" font-size="9.20" text-anchor="middle">x(μm)</text>
<text transform="translate(345.80,12.80) scale(1.100,1)" font-size="13.80" text-anchor="start" style="stroke-width:0.6px">(c)</text>
<g clip-path="url(#cd)" fill="none" stroke-width="1.4">
<path d="M132.50,135.00 C133.02,137.33 134.22,143.50 135.60,149.00 C136.98,154.50 139.09,161.75 140.80,168.00 C142.51,174.25 144.27,181.33 145.85,186.50 C147.43,191.67 148.78,195.08 150.30,199.00 C151.83,202.92 153.42,206.92 155.00,210.00 C156.58,213.08 158.25,215.25 159.80,217.50 C161.35,219.75 161.78,220.43 164.30,223.50 C166.82,226.57 171.87,232.43 174.90,235.90 C177.93,239.37 179.73,241.65 182.50,244.30 C185.27,246.95 188.50,249.60 191.50,251.80 C194.50,254.00 197.48,255.88 200.50,257.50 C203.52,259.12 207.35,260.50 209.60,261.50 C211.85,262.50 213.27,263.17 214.00,263.50" stroke="#3f51c8"/>
<path d="M136.00,135.00 C136.63,137.33 137.80,143.50 139.80,149.00 C141.80,154.50 145.17,161.83 148.00,168.00 C150.83,174.17 154.33,181.45 156.80,186.00 C159.27,190.55 160.67,192.35 162.80,195.30 C164.93,198.25 167.15,200.62 169.60,203.70 C172.05,206.78 174.87,210.67 177.50,213.80 C180.13,216.93 181.90,219.52 185.40,222.50 C188.90,225.48 194.40,228.90 198.50,231.70 C202.60,234.50 206.08,237.00 210.00,239.30 C213.92,241.60 216.75,243.07 222.00,245.50 C227.25,247.93 236.00,251.93 241.50,253.90 C247.00,255.87 251.08,256.38 255.00,257.30 C258.92,258.22 262.17,258.87 265.00,259.40 C267.83,259.93 270.83,260.32 272.00,260.50" stroke="#3a9a3a"/>
</g>
<g stroke="none">
<circle cx="141.40" cy="170.70" r="2.6" fill="#1f3cff"/>
<circle cx="146.40" cy="180.90" r="2.6" fill="#1f3cff"/>
<circle cx="149.50" cy="190.80" r="2.6" fill="#1f3cff"/>
<circle cx="157.10" cy="205.80" r="2.6" fill="#1f3cff"/>
<circle cx="167.80" cy="220.30" r="2.6" fill="#1f3cff"/>
<circle cx="171.50" cy="230.30" r="2.6" fill="#1f3cff"/>
<circle cx="177.70" cy="240.00" r="2.6" fill="#1f3cff"/>
<circle cx="187.70" cy="249.70" r="2.6" fill="#1f3cff"/>
<circle cx="202.40" cy="259.10" r="2.6" fill="#1f3cff"/>
<circle cx="147.80" cy="170.90" r="2.6" fill="#1e9a1e"/>
<circle cx="153.90" cy="180.90" r="2.6" fill="#1e9a1e"/>
<circle cx="159.20" cy="190.80" r="2.6" fill="#1e9a1e"/>
<circle cx="172.00" cy="205.80" r="2.6" fill="#1e9a1e"/>
<circle cx="187.80" cy="220.30" r="2.6" fill="#1e9a1e"/>
<circle cx="198.50" cy="230.20" r="2.6" fill="#1e9a1e"/>
<circle cx="208.10" cy="239.70" r="2.6" fill="#1e9a1e"/>
<circle cx="228.40" cy="249.70" r="2.6" fill="#1e9a1e"/>
<circle cx="265.10" cy="259.10" r="2.6" fill="#1e9a1e"/>
</g>
<text transform="translate(128.30,272.20) scale(0.950,1)" font-size="9.60" text-anchor="middle">0</text>
<text transform="translate(175.77,272.20) scale(0.950,1)" font-size="9.60" text-anchor="middle">20</text>
<text transform="translate(223.23,272.20) scale(0.950,1)" font-size="9.60" text-anchor="middle">40</text>
<text transform="translate(270.70,272.20) scale(0.950,1)" font-size="9.60" text-anchor="middle">60</text>
<text transform="translate(126.00,258.25) scale(0.950,1)" font-size="9.60" text-anchor="end">980</text>
<text transform="translate(126.00,233.43) scale(0.950,1)" font-size="9.60" text-anchor="end">985</text>
<text transform="translate(126.00,208.60) scale(0.950,1)" font-size="9.60" text-anchor="end">990</text>
<text transform="translate(126.00,183.78) scale(0.950,1)" font-size="9.60" text-anchor="end">995</text>
<text transform="translate(126.00,158.95) scale(0.950,1)" font-size="9.60" text-anchor="end">1000</text>
<path d="M128.30,262.30 v-2.0 M175.77,262.30 v-2.0 M223.23,262.30 v-2.0 M270.70,262.30 v-2.0 M128.30,254.95 h2.0 M128.30,230.13 h2.0 M128.30,205.30 h2.0 M128.30,180.48 h2.0 M128.30,155.65 h2.0" stroke="#1a1a1a" stroke-width="0.9" fill="none"/>
<rect x="128.30" y="149.20" width="142.60" height="113.10" fill="none" stroke="#1a1a1a" stroke-width="1.2"/>
<path d="M194.70,154.80 H217.00" stroke="#3f51c8" stroke-width="1.20"/>
<path d="M194.70,165.80 H217.00" stroke="#3a9a3a" stroke-width="1.20"/>
<text transform="translate(219.30,158.10) scale(0.940,1)" font-size="9.86" text-anchor="start">Supported</text>
<text transform="translate(219.30,169.10) scale(0.940,1)" font-size="9.86" text-anchor="start">Suspended</text>
<text transform="translate(105.30,224.20) rotate(-90)" font-size="8.90" text-anchor="start"><tspan font-size="7.40">ω</tspan><tspan x="8.90" font-size="8.90">(cm</tspan><tspan x="27.60" dy="-4.50" font-size="5.20" style="stroke-width:0.2px">-1</tspan><tspan x="32.40" dy="4.50" font-size="8.90">)</tspan></text>
<text x="191.50" y="277.30" font-size="9.00" text-anchor="start">λ<tspan dx="0.30" dy="3.20" font-size="5.50" style="stroke-width:0.2px">0</tspan><tspan dx="0.30" dy="-3.20">/λ</tspan><tspan dx="0.60" dy="3.60" font-size="5.50" style="stroke-width:0.2px">p</tspan></text>
<text transform="translate(84.50,159.90) scale(1.100,1)" font-size="14.00" text-anchor="start" style="stroke-width:0.6px">(d)</text>
<g clip-path="url(#ce)" fill="none" stroke-width="1.4">
<path d="M299.50,214.20 C299.68,214.43 300.13,215.15 300.60,215.60 C301.07,216.05 301.40,216.77 302.30,216.90 C303.20,217.03 304.38,216.68 306.00,216.40 C307.62,216.12 309.77,215.62 312.00,215.20 C314.23,214.78 316.90,214.40 319.40,213.90 C321.90,213.40 324.23,212.72 327.00,212.20 C329.77,211.68 332.42,211.17 336.00,210.80 C339.58,210.43 344.50,210.17 348.50,210.00 C352.50,209.83 356.08,209.85 360.00,209.80 C363.92,209.75 368.25,209.57 372.00,209.70 C375.75,209.83 379.50,210.52 382.50,210.60 C385.50,210.68 387.47,210.40 390.00,210.20 C392.53,210.00 395.03,209.68 397.70,209.40 C400.37,209.12 403.00,208.85 406.00,208.50 C409.00,208.15 412.87,207.67 415.70,207.30 C418.53,206.93 420.68,206.67 423.00,206.30 C425.32,205.93 427.85,205.50 429.60,205.10 C431.35,204.70 432.40,204.35 433.50,203.90 C434.60,203.45 435.38,202.82 436.20,202.40 C437.02,201.98 437.72,201.57 438.40,201.40 C439.08,201.23 439.73,201.32 440.30,201.40 C440.87,201.48 441.27,201.67 441.80,201.90 C442.33,202.13 443.22,202.65 443.50,202.80" stroke="#1a1a1a"/>
</g>
<rect x="304.30" y="221.00" width="4.6" height="4.6" fill="#111"/>
<rect x="316.80" y="212.20" width="4.6" height="4.6" fill="#111"/>
<rect x="329.30" y="208.10" width="4.6" height="4.6" fill="#111"/>
<rect x="341.30" y="208.10" width="4.6" height="4.6" fill="#111"/>
<rect x="353.80" y="200.70" width="4.6" height="4.6" fill="#111"/>
<rect x="372.50" y="201.60" width="4.6" height="4.6" fill="#111"/>
<rect x="391.00" y="196.40" width="4.6" height="4.6" fill="#111"/>
<rect x="403.40" y="193.00" width="4.6" height="4.6" fill="#111"/>
<rect x="415.80" y="199.50" width="4.6" height="4.6" fill="#111"/>
<text transform="translate(312.67,272.20) scale(0.950,1)" font-size="9.60" text-anchor="middle">980</text>
<text transform="translate(343.61,272.20) scale(0.950,1)" font-size="9.60" text-anchor="middle">985</text>
<text transform="translate(374.54,272.20) scale(0.950,1)" font-size="9.60" text-anchor="middle">990</text>
<text transform="translate(405.48,272.20) scale(0.950,1)" font-size="9.60" text-anchor="middle">995</text>
<text transform="translate(436.41,272.20) scale(0.950,1)" font-size="9.60" text-anchor="middle">1000</text>
<text transform="translate(298.00,151.40) scale(0.950,1)" font-size="9.60" text-anchor="end">0</text>
<text transform="translate(298.00,184.56) scale(0.950,1)" font-size="9.60" text-anchor="end">-20</text>
<text transform="translate(298.00,216.81) scale(0.950,1)" font-size="9.60" text-anchor="end">-40</text>
<text transform="translate(298.00,249.07) scale(0.950,1)" font-size="9.60" text-anchor="end">-60</text>
<path d="M312.67,262.30 v-2.0 M343.61,262.30 v-2.0 M374.54,262.30 v-2.0 M405.48,262.30 v-2.0 M436.41,262.30 v-2.0 M300.30,149.00 h2.0 M300.30,181.26 h2.0 M300.30,213.51 h2.0 M300.30,245.77 h2.0" stroke="#1a1a1a" stroke-width="0.9" fill="none"/>
<rect x="300.30" y="149.00" width="142.50" height="113.30" fill="none" stroke="#1a1a1a" stroke-width="1.2"/>
<text transform="translate(282.40,215.60) rotate(-90)" font-size="8.30" text-anchor="start">Δ<tspan font-size="6.50">λ</tspan><tspan dx="1.60">(%)</tspan></text>
<text x="356.20" y="279.70" font-size="8.40" text-anchor="start"><tspan font-size="7.20">ω</tspan><tspan x="364.70" font-size="8.40">(cm</tspan><tspan x="383.00" dy="-3.30" font-size="5.20" style="stroke-width:0.2px">-1</tspan><tspan x="389.20" dy="3.30" font-size="8.40">)</tspan></text>
<text transform="translate(272.60,160.10) scale(1.100,1)" font-size="14.00" text-anchor="start" style="stroke-width:0.6px">(e)</text></svg>
</body></html>
